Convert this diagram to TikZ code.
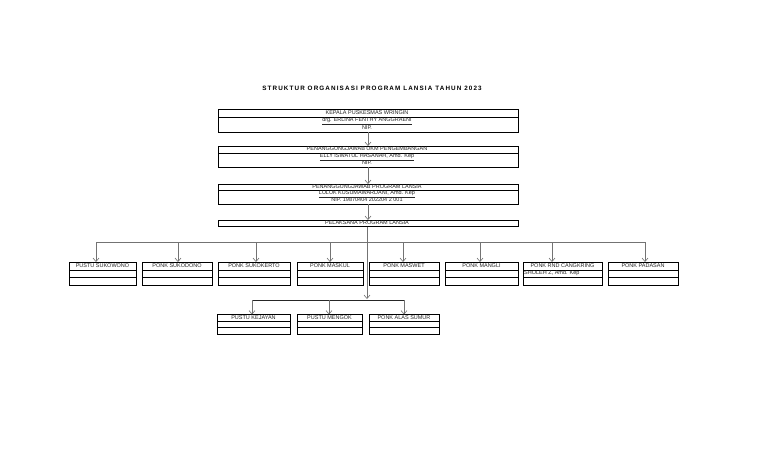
\documentclass[tikz,border=0pt]{standalone}
\usepackage{fontspec}
\setmainfont{Liberation Sans}
\usetikzlibrary{arrows.meta}
\begin{document}
\begin{tikzpicture}[x=1pt,y=-1pt,
  box/.style={draw=black, line width=0.9pt, inner sep=0pt, outer sep=0pt, anchor=north west},
  divline/.style={draw=black, line width=0.7pt},
  conn/.style={draw=black!55, line width=0.6pt},
  arr/.style={conn, -{Straight Barb[length=3.5pt,width=6pt]}},
  txt/.style={font=\fontsize{5.5}{6}\selectfont, inner sep=0pt, text=black!85}]
\useasboundingbox[fill=white] (0,0) rectangle (768,466);

% title
\node[inner sep=0pt, font=\fontsize{6.3}{7}\selectfont\bfseries\addfontfeature{LetterSpace=18}] (title) at (372,88) {STRUKTUR ORGANISASI PROGRAM LANSIA TAHUN 2023};

% top chain boxes
\node[box, minimum width=300, minimum height=23] (k1) at (218,109) {};
\draw[divline] (k1.west |- 0,117) -- (k1.east |- 0,117);
\node[txt] (k1h) at (367,113) {KEPALA PUSKESMAS WRINGIN};
\node[txt] (k1n) at (367,120.8) {\underline{drg. ERLINA FENTHY ANGGRAENI}};
\node[txt] (k1p) at (367,127.5) {NIP.};

\node[box, minimum width=300, minimum height=21] (k2) at (218,146) {};
\draw[divline] (k2.west |- 0,153) -- (k2.east |- 0,153);
\node[txt] (k2h) at (367,149) {PENANGGUNGJAWAB UKM PENGEMBANGAN};
\node[txt] (k2n) at (367,157) {\underline{ELLY ISWATUL HASANAH, Amd. Kep}};
\node[txt] (k2p) at (367,163) {NIP.};

\node[box, minimum width=300, minimum height=20] (k3) at (218,184) {};
\draw[divline] (k3.west |- 0,190) -- (k3.east |- 0,190);
\node[txt] (k3h) at (367,187) {PENANGGUNGJAWAB PROGRAM LANSIA};
\node[txt] (k3n) at (367,193.8) {\underline{LULUK KUSUMAWARDANI, Amd. Kep}};
\node[txt] (k3p) at (367,200) {NIP. 19870404 202204 2 001};

\node[box, minimum width=300, minimum height=6.5] (k4) at (218,220) {};
\node[txt] (k4h) at (367,222.5) {PELAKSANA PROGRAM LANSIA};

\draw[arr] (k1.south) -- (k2.north);
\draw[arr] (k2.south) -- (k3.north);
\draw[arr] (k3.south) -- (k4.north);

% first row of boxes
\foreach \n/\xa/\xb/\t in {b1/69/136/PUSTU SUKOWONO, b2/142/212/PONK SUKODONO, b3/218/290/PONK SUKOKERTO, b4/297/363/PONK MASKUL, b5/369/439/PONK MASWET, b6/445/518/PONK MANGLI, b7/523/602/PONK RND CANGKRING, b8/608/678/PONK PADASAN}{
  \node[box, minimum width={\xb-\xa}, minimum height=23] (\n) at (\xa,262) {};
  \draw[divline] (\n.west |- 0,270) -- (\n.east |- 0,270);
  \draw[divline] (\n.west |- 0,277.5) -- (\n.east |- 0,277.5);
  \node[txt, anchor=north] at ([yshift=-1.6pt]\n.north) {\t};
}
\node[txt, anchor=west] (b7n) at (524,272.8) {SHOLEH Z, Amd. Kep};

% bus to first row
\coordinate (busL) at (96,242);
\coordinate (busR) at (645,242);
\coordinate (lowbus) at (367,299);
\draw[conn] (busL) -- (busR);
\foreach \n/\x in {b1/96, b2/178, b3/256, b4/330, b5/403, b6/480, b7/552, b8/645}{
  \coordinate (t\n) at (\x,242);
  \draw[arr] (t\n) -- (t\n |- \n.north);
}
\draw[arr] (k4.south -| lowbus) -- (lowbus);

% second row of boxes
\foreach \n/\xa/\xb/\t in {c1/217/290/PUSTU KEJAYAN, c2/297/362/PUSTU MENGOK, c3/369/439/PONK ALAS SUMUR}{
  \node[box, minimum width={\xb-\xa}, minimum height=19.5] (\n) at (\xa,314.5) {};
  \draw[divline] (\n.west |- 0,321) -- (\n.east |- 0,321);
  \draw[divline] (\n.west |- 0,327.5) -- (\n.east |- 0,327.5);
  \node[txt, anchor=north] at ([yshift=-1.2pt]\n.north) {\t};
}
\coordinate (lbL) at (252,300);
\coordinate (lbR) at (404,300);
\draw[conn, draw=black!85] (lbL) -- (lbR);
\draw[arr] (lbL) -- (lbL |- c1.north);
\coordinate (lbM) at (329,300);
\draw[arr] (lbM) -- (lbM |- c2.north);
\draw[arr] (lbR) -- (lbR |- c3.north);
\end{tikzpicture}
\end{document}
